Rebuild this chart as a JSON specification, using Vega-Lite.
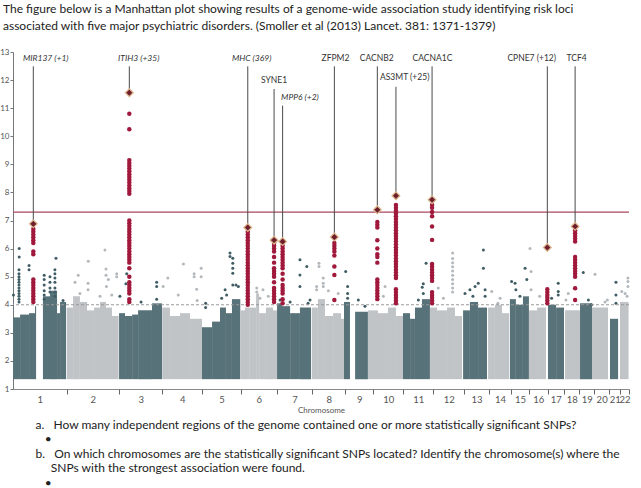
{
  "$schema": "https://vega.github.io/schema/vega-lite/v6.json",
  "width": 616,
  "height": 337,
  "autosize": {"type": "none"},
  "padding": {"left": 13, "top": 52, "right": 12, "bottom": 99},
  "background": "white",
  "config": {"view": {"stroke": null}, "font": "Lato"},
  "title": {
    "text": ["The figure below is a Manhattan plot showing results of a genome-wide association study identifying risk loci", "associated with five major psychiatric disorders. (Smoller et al (2013) Lancet. 381: 1371-1379)"],
    "anchor": "start", "frame": "group", "dx": -10, "offset": 15,
    "font": "Lato", "fontSize": 12, "fontWeight": "normal", "color": "#222", "lineHeight": 17
  },
  "datasets": {
    "bands": [
      {"chr":1,"group":"odd","start":0,"end":33,"top":3.55},{"chr":1,"group":"odd","start":33,"end":75,"top":3.65},{"chr":1,"group":"odd","start":75,"end":103,"top":3.7},{"chr":1,"group":"odd","start":103,"end":108,"top":3.95},{"chr":1,"group":"odd","start":140,"end":173,"top":4.3},{"chr":1,"group":"odd","start":173,"end":206,"top":4.5},{"chr":1,"group":"odd","start":206,"end":220,"top":3.7},{"chr":1,"group":"odd","start":220,"end":248,"top":4.1},
      {"chr":2,"group":"even","start":251,"end":281,"top":3.9},{"chr":2,"group":"even","start":281,"end":313,"top":4.3},{"chr":2,"group":"even","start":313,"end":346,"top":4.1},{"chr":2,"group":"even","start":346,"end":379,"top":3.8},{"chr":2,"group":"even","start":379,"end":407,"top":3.9},{"chr":2,"group":"even","start":407,"end":435,"top":4.1},{"chr":2,"group":"even","start":435,"end":463,"top":3.9},{"chr":2,"group":"even","start":463,"end":494,"top":3.6},
      {"chr":3,"group":"odd","start":496,"end":524,"top":3.7},{"chr":3,"group":"odd","start":524,"end":557,"top":3.6},{"chr":3,"group":"odd","start":557,"end":585,"top":3.65},{"chr":3,"group":"odd","start":585,"end":650,"top":3.8},{"chr":3,"group":"odd","start":650,"end":697,"top":4.05},
      {"chr":4,"group":"even","start":698,"end":734,"top":3.9},{"chr":4,"group":"even","start":734,"end":781,"top":3.6},{"chr":4,"group":"even","start":781,"end":828,"top":3.7},{"chr":4,"group":"even","start":828,"end":884,"top":3.5},
      {"chr":5,"group":"odd","start":884,"end":931,"top":3.2},{"chr":5,"group":"odd","start":931,"end":968,"top":3.4},{"chr":5,"group":"odd","start":968,"end":996,"top":3.9},{"chr":5,"group":"odd","start":996,"end":1024,"top":3.7},{"chr":5,"group":"odd","start":1024,"end":1063,"top":4.2},
      {"chr":6,"group":"even","start":1063,"end":1085,"top":3.8},{"chr":6,"group":"even","start":1085,"end":1108,"top":3.9},{"chr":6,"group":"even","start":1108,"end":1137,"top":3.9},{"chr":6,"group":"even","start":1137,"end":1151,"top":4.4},{"chr":6,"group":"even","start":1151,"end":1183,"top":3.7},{"chr":6,"group":"even","start":1183,"end":1216,"top":3.9},{"chr":6,"group":"even","start":1216,"end":1235,"top":3.8},
      {"chr":7,"group":"odd","start":1235,"end":1258,"top":4.05},{"chr":7,"group":"odd","start":1258,"end":1296,"top":3.95},{"chr":7,"group":"odd","start":1296,"end":1342,"top":3.7},{"chr":7,"group":"odd","start":1342,"end":1394,"top":3.9},
      {"chr":8,"group":"even","start":1398,"end":1426,"top":3.9},{"chr":8,"group":"even","start":1426,"end":1459,"top":4.2},{"chr":8,"group":"even","start":1459,"end":1497,"top":3.6},{"chr":8,"group":"even","start":1497,"end":1534,"top":3.7},{"chr":8,"group":"even","start":1534,"end":1548,"top":3.5},
      {"chr":9,"group":"odd","start":1548,"end":1576,"top":4.1},{"chr":9,"group":"odd","start":1600,"end":1660,"top":3.75},
      {"chr":10,"group":"even","start":1660,"end":1707,"top":3.8},{"chr":10,"group":"even","start":1707,"end":1754,"top":3.7},{"chr":10,"group":"even","start":1754,"end":1791,"top":3.9},{"chr":10,"group":"even","start":1791,"end":1824,"top":3.6},
      {"chr":11,"group":"odd","start":1824,"end":1857,"top":3.7},{"chr":11,"group":"odd","start":1857,"end":1880,"top":3.5},{"chr":11,"group":"odd","start":1880,"end":1913,"top":3.9},{"chr":11,"group":"odd","start":1913,"end":1950,"top":4.2},
      {"chr":12,"group":"even","start":1950,"end":1983,"top":3.9},{"chr":12,"group":"even","start":1983,"end":2030,"top":3.8},{"chr":12,"group":"even","start":2030,"end":2067,"top":3.9},{"chr":12,"group":"even","start":2067,"end":2100,"top":3.6},
      {"chr":13,"group":"odd","start":2105,"end":2137,"top":3.8},{"chr":13,"group":"odd","start":2137,"end":2175,"top":4.1},{"chr":13,"group":"odd","start":2175,"end":2217,"top":3.9},
      {"chr":14,"group":"even","start":2222,"end":2254,"top":3.9},{"chr":14,"group":"even","start":2254,"end":2287,"top":4.0},{"chr":14,"group":"even","start":2287,"end":2320,"top":3.7},
      {"chr":15,"group":"odd","start":2324,"end":2352,"top":4.2},{"chr":15,"group":"odd","start":2352,"end":2385,"top":4.0},{"chr":15,"group":"odd","start":2385,"end":2413,"top":4.3},
      {"chr":16,"group":"even","start":2413,"end":2451,"top":3.8},{"chr":16,"group":"even","start":2451,"end":2493,"top":3.9},
      {"chr":17,"group":"odd","start":2502,"end":2540,"top":4.0},{"chr":17,"group":"odd","start":2540,"end":2577,"top":3.9},
      {"chr":18,"group":"even","start":2582,"end":2652,"top":3.8},
      {"chr":19,"group":"odd","start":2652,"end":2708,"top":4.05},
      {"chr":20,"group":"even","start":2708,"end":2783,"top":3.9},
      {"chr":21,"group":"odd","start":2792,"end":2830,"top":3.5},
      {"chr":22,"group":"even","start":2839,"end":2879,"top":4.1}
    ],
    "snps": [
      {"group":"odd","pos":29,"logp":6.0},{"group":"odd","pos":29,"logp":5.7},{"group":"odd","pos":28,"logp":5.25},{"group":"odd","pos":28,"logp":5.1},{"group":"odd","pos":28,"logp":5.0},{"group":"odd","pos":28,"logp":4.9},{"group":"odd","pos":28,"logp":4.8},{"group":"odd","pos":28,"logp":4.7},{"group":"odd","pos":28,"logp":4.6},{"group":"odd","pos":28,"logp":4.5},{"group":"odd","pos":28,"logp":4.4},{"group":"odd","pos":28,"logp":4.3},{"group":"odd","pos":28,"logp":4.2},{"group":"odd","pos":28,"logp":4.1},{"group":"odd","pos":2,"logp":4.35},{"group":"odd","pos":75,"logp":5.4},{"group":"odd","pos":75,"logp":5.25},
      {"group":"odd","pos":201,"logp":5.66},{"group":"odd","pos":196,"logp":5.25},{"group":"odd","pos":196,"logp":5.1},{"group":"odd","pos":196,"logp":4.95},{"group":"odd","pos":196,"logp":4.8},{"group":"odd","pos":196,"logp":4.6},{"group":"odd","pos":196,"logp":4.45},{"group":"odd","pos":196,"logp":4.3},
      {"group":"odd","pos":146,"logp":5.05},{"group":"odd","pos":146,"logp":4.9},{"group":"odd","pos":146,"logp":4.7},{"group":"odd","pos":146,"logp":4.5},{"group":"odd","pos":146,"logp":4.35},{"group":"odd","pos":146,"logp":4.2},{"group":"odd","pos":173,"logp":5.0},{"group":"odd","pos":173,"logp":4.8},{"group":"odd","pos":173,"logp":4.6},{"group":"odd","pos":173,"logp":4.45},{"group":"odd","pos":234,"logp":4.15},
      {"group":"even","pos":352,"logp":5.55},{"group":"even","pos":305,"logp":5.05},{"group":"even","pos":351,"logp":4.77},{"group":"even","pos":351,"logp":4.53},{"group":"even","pos":430,"logp":5.95},{"group":"even","pos":435,"logp":5.27},{"group":"even","pos":435,"logp":5.05},{"group":"even","pos":437,"logp":4.65},{"group":"even","pos":407,"logp":4.3},{"group":"even","pos":290,"logp":4.8},{"group":"even","pos":313,"logp":4.4},{"group":"even","pos":485,"logp":5.1},{"group":"even","pos":485,"logp":5.0},{"group":"even","pos":446,"logp":4.9},{"group":"even","pos":462,"logp":4.35},
      {"group":"odd","pos":500,"logp":4.3},{"group":"odd","pos":532,"logp":5.1},{"group":"odd","pos":528,"logp":4.75},{"group":"odd","pos":599,"logp":4.1},{"group":"odd","pos":672,"logp":4.8},{"group":"odd","pos":672,"logp":4.65},{"group":"odd","pos":672,"logp":4.2},
      {"group":"even","pos":724,"logp":4.95},{"group":"even","pos":702,"logp":4.65},{"group":"even","pos":773,"logp":4.35},{"group":"even","pos":797,"logp":5.45},{"group":"even","pos":847,"logp":5.1},{"group":"even","pos":847,"logp":5.0},{"group":"even","pos":880,"logp":5.3},{"group":"even","pos":880,"logp":5.0},{"group":"even","pos":859,"logp":4.55},{"group":"even","pos":861,"logp":4.15},
      {"group":"odd","pos":901,"logp":4.05},{"group":"odd","pos":901,"logp":3.9},{"group":"odd","pos":1015,"logp":5.84},{"group":"odd","pos":1015,"logp":5.72},{"group":"odd","pos":1028,"logp":5.66},{"group":"odd","pos":1028,"logp":5.48},{"group":"odd","pos":1028,"logp":5.3},{"group":"odd","pos":1028,"logp":5.12},{"group":"odd","pos":1028,"logp":4.7},{"group":"odd","pos":1043,"logp":4.7},{"group":"odd","pos":1054,"logp":4.65},{"group":"odd","pos":992,"logp":4.53},{"group":"odd","pos":976,"logp":4.23},{"group":"odd","pos":999,"logp":4.35},
      {"group":"even","pos":1140,"logp":4.6},{"group":"even","pos":1140,"logp":4.45},{"group":"even","pos":1155,"logp":4.23},{"group":"even","pos":1169,"logp":4.53},{"group":"even","pos":1194,"logp":4.3},
      {"group":"odd","pos":1342,"logp":5.6},{"group":"odd","pos":1374,"logp":5.36},{"group":"odd","pos":1342,"logp":5.06},{"group":"odd","pos":1342,"logp":4.65},{"group":"odd","pos":1389,"logp":4.17},{"group":"odd","pos":1380,"logp":4.05},{"group":"odd","pos":1296,"logp":4.1},{"group":"odd","pos":1249,"logp":4.17},
      {"group":"even","pos":1431,"logp":5.48},{"group":"even","pos":1431,"logp":5.36},{"group":"even","pos":1451,"logp":4.95},{"group":"even","pos":1451,"logp":4.77},{"group":"even","pos":1451,"logp":4.65},{"group":"even","pos":1420,"logp":4.65},{"group":"even","pos":1420,"logp":4.53},{"group":"even","pos":1475,"logp":4.5},{"group":"even","pos":1521,"logp":4.4},
      {"group":"odd","pos":1556,"logp":5.18},{"group":"odd","pos":1565,"logp":4.65},{"group":"odd","pos":1565,"logp":4.4},{"group":"odd","pos":1565,"logp":4.23},{"group":"odd","pos":1615,"logp":4.17},{"group":"odd","pos":1646,"logp":3.95},
      {"group":"even","pos":1740,"logp":4.65},{"group":"even","pos":1732,"logp":4.3},
      {"group":"odd","pos":1919,"logp":4.75},{"group":"odd","pos":1919,"logp":4.4},{"group":"odd","pos":1896,"logp":4.17},{"group":"odd","pos":1932,"logp":5.48},{"group":"odd","pos":1914,"logp":4.62},
      {"group":"even","pos":2056,"logp":5.84},{"group":"even","pos":2056,"logp":5.65},{"group":"even","pos":2056,"logp":5.5},{"group":"even","pos":2056,"logp":5.35},{"group":"even","pos":2056,"logp":5.2},{"group":"even","pos":2056,"logp":5.05},{"group":"even","pos":2056,"logp":4.9},{"group":"even","pos":2056,"logp":4.75},{"group":"even","pos":2056,"logp":4.6},{"group":"even","pos":2056,"logp":4.45},{"group":"even","pos":2013,"logp":4.23},{"group":"even","pos":1989,"logp":4.6},
      {"group":"odd","pos":2200,"logp":5.95},{"group":"odd","pos":2200,"logp":5.3},{"group":"odd","pos":2161,"logp":4.65},{"group":"odd","pos":2176,"logp":4.77},{"group":"odd","pos":2137,"logp":4.53},{"group":"odd","pos":2114,"logp":4.4},{"group":"odd","pos":2208,"logp":4.53},{"group":"odd","pos":2208,"logp":4.3},{"group":"odd","pos":2151,"logp":4.3},
      {"group":"even","pos":2239,"logp":4.47},{"group":"even","pos":2278,"logp":4.23},{"group":"even","pos":2268,"logp":4.05},
      {"group":"odd","pos":2332,"logp":4.83},{"group":"odd","pos":2348,"logp":4.77},{"group":"odd","pos":2352,"logp":4.53},{"group":"odd","pos":2371,"logp":4.3},{"group":"odd","pos":2395,"logp":5.3},{"group":"odd","pos":2403,"logp":4.9},
      {"group":"even","pos":2418,"logp":6.0},{"group":"even","pos":2423,"logp":5.18},{"group":"even","pos":2423,"logp":4.53},{"group":"even","pos":2463,"logp":4.3},
      {"group":"odd","pos":2550,"logp":4.77},{"group":"odd","pos":2550,"logp":4.47},{"group":"odd","pos":2550,"logp":4.35},{"group":"odd","pos":2519,"logp":4.23},
      {"group":"even","pos":2597,"logp":4.4},{"group":"even","pos":2586,"logp":4.17},
      {"group":"odd","pos":2667,"logp":5.15},{"group":"odd","pos":2691,"logp":4.17},{"group":"odd","pos":2706,"logp":4.0},
      {"group":"even","pos":2722,"logp":5.09},{"group":"even","pos":2769,"logp":4.1},{"group":"even","pos":2780,"logp":4.17},
      {"group":"odd","pos":2820,"logp":4.8},{"group":"odd","pos":2820,"logp":4.35},{"group":"odd","pos":2820,"logp":4.05},
      {"group":"even","pos":2847,"logp":4.47},{"group":"even","pos":2863,"logp":4.4},{"group":"even","pos":2876,"logp":4.95},{"group":"even","pos":2876,"logp":4.83},{"group":"even","pos":2876,"logp":4.65},{"group":"even","pos":2872,"logp":4.3}
    ],
    "sig": [
      {"gene":"MIR137","pos":95,"logp":6.7},{"gene":"MIR137","pos":95,"logp":6.6},{"gene":"MIR137","pos":95,"logp":6.5},{"gene":"MIR137","pos":95,"logp":6.4},{"gene":"MIR137","pos":95,"logp":6.3},{"gene":"MIR137","pos":95,"logp":6.2},{"gene":"MIR137","pos":95,"logp":5.9},{"gene":"MIR137","pos":95,"logp":5.8},{"gene":"MIR137","pos":95,"logp":4.9},{"gene":"MIR137","pos":95,"logp":4.8},{"gene":"MIR137","pos":95,"logp":4.7},{"gene":"MIR137","pos":95,"logp":4.6},{"gene":"MIR137","pos":95,"logp":4.5},{"gene":"MIR137","pos":95,"logp":4.4},{"gene":"MIR137","pos":95,"logp":4.3},{"gene":"MIR137","pos":95,"logp":4.2},{"gene":"MIR137","pos":95,"logp":4.1},
      {"gene":"ITIH3","pos":544,"logp":10.8},{"gene":"ITIH3","pos":544,"logp":10.25},{"gene":"ITIH3","pos":544,"logp":9.15},{"gene":"ITIH3","pos":544,"logp":9.05},{"gene":"ITIH3","pos":544,"logp":8.95},{"gene":"ITIH3","pos":544,"logp":8.85},{"gene":"ITIH3","pos":544,"logp":8.75},{"gene":"ITIH3","pos":544,"logp":8.65},{"gene":"ITIH3","pos":544,"logp":8.55},{"gene":"ITIH3","pos":544,"logp":8.45},{"gene":"ITIH3","pos":544,"logp":8.35},{"gene":"ITIH3","pos":544,"logp":8.25},{"gene":"ITIH3","pos":544,"logp":8.15},{"gene":"ITIH3","pos":544,"logp":8.05},{"gene":"ITIH3","pos":544,"logp":7.95},{"gene":"ITIH3","pos":544,"logp":7.0},{"gene":"ITIH3","pos":544,"logp":6.9},{"gene":"ITIH3","pos":544,"logp":6.8},{"gene":"ITIH3","pos":544,"logp":6.7},{"gene":"ITIH3","pos":544,"logp":6.6},{"gene":"ITIH3","pos":544,"logp":6.5},{"gene":"ITIH3","pos":544,"logp":6.4},{"gene":"ITIH3","pos":544,"logp":6.3},{"gene":"ITIH3","pos":544,"logp":6.2},{"gene":"ITIH3","pos":544,"logp":6.1},{"gene":"ITIH3","pos":544,"logp":6.0},{"gene":"ITIH3","pos":544,"logp":5.9},{"gene":"ITIH3","pos":544,"logp":5.8},{"gene":"ITIH3","pos":544,"logp":5.7},{"gene":"ITIH3","pos":544,"logp":5.6},{"gene":"ITIH3","pos":544,"logp":5.5},{"gene":"ITIH3","pos":544,"logp":5.3},{"gene":"ITIH3","pos":544,"logp":5.0},{"gene":"ITIH3","pos":544,"logp":4.8},{"gene":"ITIH3","pos":544,"logp":4.7},{"gene":"ITIH3","pos":544,"logp":4.6},{"gene":"ITIH3","pos":544,"logp":4.5},{"gene":"ITIH3","pos":544,"logp":4.4},{"gene":"ITIH3","pos":544,"logp":4.2},{"gene":"ITIH3","pos":544,"logp":4.1},
      {"gene":"MHC","pos":1098,"logp":6.6},{"gene":"MHC","pos":1098,"logp":6.5},{"gene":"MHC","pos":1098,"logp":6.4},{"gene":"MHC","pos":1098,"logp":6.3},{"gene":"MHC","pos":1098,"logp":6.2},{"gene":"MHC","pos":1098,"logp":6.1},{"gene":"MHC","pos":1098,"logp":6.0},{"gene":"MHC","pos":1098,"logp":5.9},{"gene":"MHC","pos":1098,"logp":5.8},{"gene":"MHC","pos":1098,"logp":5.7},{"gene":"MHC","pos":1098,"logp":5.6},{"gene":"MHC","pos":1098,"logp":5.5},{"gene":"MHC","pos":1098,"logp":5.4},{"gene":"MHC","pos":1098,"logp":5.3},{"gene":"MHC","pos":1098,"logp":5.2},{"gene":"MHC","pos":1098,"logp":5.1},{"gene":"MHC","pos":1098,"logp":5.0},{"gene":"MHC","pos":1098,"logp":4.9},{"gene":"MHC","pos":1098,"logp":4.8},{"gene":"MHC","pos":1098,"logp":4.7},{"gene":"MHC","pos":1098,"logp":4.6},{"gene":"MHC","pos":1098,"logp":4.5},{"gene":"MHC","pos":1098,"logp":4.4},{"gene":"MHC","pos":1098,"logp":4.3},{"gene":"MHC","pos":1098,"logp":4.2},{"gene":"MHC","pos":1098,"logp":4.1},{"gene":"MHC","pos":1098,"logp":4.0},
      {"gene":"SYNE1","pos":1221,"logp":6.2},{"gene":"SYNE1","pos":1221,"logp":6.1},{"gene":"SYNE1","pos":1221,"logp":6.0},{"gene":"SYNE1","pos":1221,"logp":5.9},{"gene":"SYNE1","pos":1221,"logp":5.7},{"gene":"SYNE1","pos":1221,"logp":5.5},{"gene":"SYNE1","pos":1221,"logp":5.3},{"gene":"SYNE1","pos":1221,"logp":5.2},{"gene":"SYNE1","pos":1221,"logp":5.1},{"gene":"SYNE1","pos":1221,"logp":5.0},{"gene":"SYNE1","pos":1221,"logp":4.8},{"gene":"SYNE1","pos":1221,"logp":4.6},{"gene":"SYNE1","pos":1221,"logp":4.5},{"gene":"SYNE1","pos":1221,"logp":4.4},{"gene":"SYNE1","pos":1221,"logp":4.3},{"gene":"SYNE1","pos":1221,"logp":4.2},{"gene":"SYNE1","pos":1221,"logp":4.1},
      {"gene":"MPP6","pos":1261,"logp":6.1},{"gene":"MPP6","pos":1261,"logp":6.0},{"gene":"MPP6","pos":1261,"logp":5.9},{"gene":"MPP6","pos":1261,"logp":5.8},{"gene":"MPP6","pos":1261,"logp":5.7},{"gene":"MPP6","pos":1261,"logp":5.6},{"gene":"MPP6","pos":1261,"logp":5.5},{"gene":"MPP6","pos":1261,"logp":5.4},{"gene":"MPP6","pos":1261,"logp":5.3},{"gene":"MPP6","pos":1261,"logp":5.1},{"gene":"MPP6","pos":1261,"logp":4.9},{"gene":"MPP6","pos":1261,"logp":4.7},{"gene":"MPP6","pos":1261,"logp":4.6},{"gene":"MPP6","pos":1261,"logp":4.5},{"gene":"MPP6","pos":1261,"logp":4.4},{"gene":"MPP6","pos":1261,"logp":4.2},{"gene":"MPP6","pos":1261,"logp":4.05},
      {"gene":"ZFPM2","pos":1503,"logp":6.2},{"gene":"ZFPM2","pos":1503,"logp":6.1},{"gene":"ZFPM2","pos":1503,"logp":6.0},{"gene":"ZFPM2","pos":1503,"logp":5.9},{"gene":"ZFPM2","pos":1503,"logp":5.75},{"gene":"ZFPM2","pos":1503,"logp":5.36},{"gene":"ZFPM2","pos":1503,"logp":5.06},{"gene":"ZFPM2","pos":1503,"logp":4.17},
      {"gene":"CACNB2","pos":1704,"logp":6.95},{"gene":"CACNB2","pos":1704,"logp":6.85},{"gene":"CACNB2","pos":1704,"logp":6.75},{"gene":"CACNB2","pos":1704,"logp":6.3},{"gene":"CACNB2","pos":1704,"logp":6.0},{"gene":"CACNB2","pos":1704,"logp":5.8},{"gene":"CACNB2","pos":1704,"logp":5.7},{"gene":"CACNB2","pos":1704,"logp":5.5},{"gene":"CACNB2","pos":1704,"logp":4.9},{"gene":"CACNB2","pos":1704,"logp":4.8},{"gene":"CACNB2","pos":1704,"logp":4.7},{"gene":"CACNB2","pos":1704,"logp":4.6},{"gene":"CACNB2","pos":1704,"logp":4.5},{"gene":"CACNB2","pos":1704,"logp":4.4},{"gene":"CACNB2","pos":1704,"logp":4.3},{"gene":"CACNB2","pos":1704,"logp":4.2},
      {"gene":"AS3MT","pos":1791,"logp":7.55},{"gene":"AS3MT","pos":1791,"logp":7.45},{"gene":"AS3MT","pos":1791,"logp":7.35},{"gene":"AS3MT","pos":1791,"logp":7.25},{"gene":"AS3MT","pos":1791,"logp":7.15},{"gene":"AS3MT","pos":1791,"logp":7.05},{"gene":"AS3MT","pos":1791,"logp":6.95},{"gene":"AS3MT","pos":1791,"logp":6.85},{"gene":"AS3MT","pos":1791,"logp":6.75},{"gene":"AS3MT","pos":1791,"logp":6.65},{"gene":"AS3MT","pos":1791,"logp":6.55},{"gene":"AS3MT","pos":1791,"logp":6.45},{"gene":"AS3MT","pos":1791,"logp":6.35},{"gene":"AS3MT","pos":1791,"logp":6.25},{"gene":"AS3MT","pos":1791,"logp":6.15},{"gene":"AS3MT","pos":1791,"logp":6.05},{"gene":"AS3MT","pos":1791,"logp":5.95},{"gene":"AS3MT","pos":1791,"logp":5.85},{"gene":"AS3MT","pos":1791,"logp":5.75},{"gene":"AS3MT","pos":1791,"logp":5.65},{"gene":"AS3MT","pos":1791,"logp":5.55},{"gene":"AS3MT","pos":1791,"logp":5.45},{"gene":"AS3MT","pos":1791,"logp":5.35},{"gene":"AS3MT","pos":1791,"logp":5.25},{"gene":"AS3MT","pos":1791,"logp":5.15},{"gene":"AS3MT","pos":1791,"logp":5.05},{"gene":"AS3MT","pos":1791,"logp":4.95},{"gene":"AS3MT","pos":1791,"logp":4.55},{"gene":"AS3MT","pos":1791,"logp":4.45},{"gene":"AS3MT","pos":1791,"logp":4.35},{"gene":"AS3MT","pos":1791,"logp":4.25},{"gene":"AS3MT","pos":1791,"logp":4.15},{"gene":"AS3MT","pos":1791,"logp":4.05},
      {"gene":"CACNA1C","pos":1960,"logp":7.55},{"gene":"CACNA1C","pos":1960,"logp":7.45},{"gene":"CACNA1C","pos":1960,"logp":7.3},{"gene":"CACNA1C","pos":1960,"logp":7.15},{"gene":"CACNA1C","pos":1960,"logp":6.79},{"gene":"CACNA1C","pos":1960,"logp":6.31},{"gene":"CACNA1C","pos":1960,"logp":5.45},{"gene":"CACNA1C","pos":1960,"logp":5.35},{"gene":"CACNA1C","pos":1960,"logp":5.25},{"gene":"CACNA1C","pos":1960,"logp":5.15},{"gene":"CACNA1C","pos":1960,"logp":5.05},{"gene":"CACNA1C","pos":1960,"logp":4.95},{"gene":"CACNA1C","pos":1960,"logp":4.85},{"gene":"CACNA1C","pos":1960,"logp":4.45},{"gene":"CACNA1C","pos":1960,"logp":4.35},{"gene":"CACNA1C","pos":1960,"logp":4.25},{"gene":"CACNA1C","pos":1960,"logp":4.15},{"gene":"CACNA1C","pos":1960,"logp":4.05},
      {"gene":"CPNE7","pos":2499,"logp":4.55},{"gene":"CPNE7","pos":2499,"logp":4.45},{"gene":"CPNE7","pos":2499,"logp":4.35},{"gene":"CPNE7","pos":2499,"logp":4.25},{"gene":"CPNE7","pos":2499,"logp":4.15},{"gene":"CPNE7","pos":2499,"logp":4.05},
      {"gene":"TCF4","pos":2629,"logp":6.65},{"gene":"TCF4","pos":2629,"logp":6.55},{"gene":"TCF4","pos":2629,"logp":6.45},{"gene":"TCF4","pos":2629,"logp":6.35},{"gene":"TCF4","pos":2629,"logp":6.25},{"gene":"TCF4","pos":2629,"logp":5.7},{"gene":"TCF4","pos":2629,"logp":5.6},{"gene":"TCF4","pos":2629,"logp":5.5},{"gene":"TCF4","pos":2629,"logp":5.4},{"gene":"TCF4","pos":2629,"logp":5.3},{"gene":"TCF4","pos":2629,"logp":5.2},{"gene":"TCF4","pos":2629,"logp":5.1},{"gene":"TCF4","pos":2629,"logp":5.0},{"gene":"TCF4","pos":2629,"logp":4.59},{"gene":"TCF4","pos":2629,"logp":4.17}
    ],
    "loci": [
      {"gene":"MIR137","label":"MIR137 (+1)","pos":95,"peak":6.88,"line_top":12.49,"label_pos":153,"label_y":12.77},
      {"gene":"ITIH3","label":"ITIH3 (+35)","pos":544,"peak":11.55,"line_top":12.49,"label_pos":588,"label_y":12.77},
      {"gene":"MHC","label":"MHC (369)","pos":1098,"peak":6.75,"line_top":12.49,"label_pos":1116,"label_y":12.77},
      {"gene":"SYNE1","label":"SYNE1","pos":1221,"peak":6.3,"line_top":11.68,"label_pos":1221,"label_y":11.99},
      {"gene":"MPP6","label":"MPP6 (+2)","pos":1261,"peak":6.25,"line_top":11.09,"label_pos":1342,"label_y":11.4},
      {"gene":"ZFPM2","label":"ZFPM2","pos":1503,"peak":6.41,"line_top":12.49,"label_pos":1508,"label_y":12.77},
      {"gene":"CACNB2","label":"CACNB2","pos":1704,"peak":7.38,"line_top":12.49,"label_pos":1701,"label_y":12.77},
      {"gene":"AS3MT","label":"AS3MT (+25)","pos":1791,"peak":7.88,"line_top":11.76,"label_pos":1832,"label_y":12.11},
      {"gene":"CACNA1C","label":"CACNA1C","pos":1960,"peak":7.74,"line_top":12.49,"label_pos":1962,"label_y":12.77},
      {"gene":"CPNE7","label":"CPNE7 (+12)","pos":2499,"peak":6.04,"line_top":12.49,"label_pos":2426,"label_y":12.77},
      {"gene":"TCF4","label":"TCF4","pos":2629,"peak":6.79,"line_top":12.49,"label_pos":2636,"label_y":12.77}
    ],
    "thresholds": [
      {"kind":"suggestive","logp":4},
      {"kind":"genome-wide","logp":7.3}
    ]
  },
  "layer": [
    {
      "data": {"name": "bands"},
      "mark": {"type": "rect"},
      "encoding": {
        "x": {"field": "start", "type": "quantitative",
          "scale": {"domain": [0, 2881], "nice": false, "zero": false},
          "axis": {"orient": "bottom", "values": [125.5,373.5,597,791.5,975.5,1149.5,1316.5,1476.5,1619,1755,1895.5,2037.5,2167.5,2277.5,2371,2457,2539,2613,2683,2753,2814,2860],
            "labelExpr": "indexof([125.5,373.5,597,791.5,975.5,1149.5,1316.5,1476.5,1619,1755,1895.5,2037.5,2167.5,2277.5,2371,2457,2539,2613,2683,2753,2814,2860], datum.value) + 1",
            "ticks": false, "grid": false, "domain": true, "domainColor": "#8a8a8a", "labelFontSize": 9.5, "labelColor": "#555", "labelPadding": 5,
            "labelOverlap": false, "labelBound": false, "labelFlush": false,
            "title": "Chromosome", "titleFontSize": 8, "titleColor": "#555", "titleFontWeight": "normal", "titlePadding": 3}},
        "x2": {"field": "end"},
        "y": {"field": "top", "type": "quantitative",
          "scale": {"domain": [1, 13], "nice": false, "zero": false},
          "axis": {"orient": "left", "values": [1,2,3,4,5,6,7,8,9,10,11,12,13], "grid": false, "title": null, "domainColor": "#777", "tickColor": "#777", "tickSize": 3, "labelFontSize": 8, "labelColor": "#555", "labelPadding": 1, "labelOverlap": false, "labelFlush": false, "labelBound": false}},
        "y2": {"datum": 1.35},
        "fill": {"field": "group", "type": "nominal", "scale": {"domain": ["odd", "even"], "range": ["#587279", "#c0c4c7"]}, "legend": null}
      }
    },
    {
      "data": {"name": "snps"},
      "mark": {"type": "circle", "size": 9, "opacity": 1},
      "encoding": {
        "x": {"field": "pos", "type": "quantitative",
          "scale": {"domain": [0, 2881], "nice": false, "zero": false},
          "axis": {"orient": "bottom", "values": [251,496,698,885,1066,1233,1400,1553,1685,1825,1966,2109,2226,2329,2413,2501,2577,2649,2717,2789,2839,2881],
            "labels": false, "ticks": true, "tickSize": 5, "tickColor": "#666", "grid": false, "domain": false,
            "title": ["a.\u00a0\u00a0\u00a0How many independent regions of the genome contained one or more statistically significant SNPs?", "\u200b\u00a0\u00a0\u00a0\u2022", "b.\u00a0\u00a0\u00a0On which chromosomes are the statistically significant SNPs located? Identify the chromosome(s) where the", "\u200b\u00a0\u00a0\u00a0\u00a0\u00a0SNPs with the strongest association were found.", "\u200b\u00a0\u00a0\u00a0\u2022"],
            "titleAnchor": "start", "titleAlign": "left", "titleBaseline": "top", "titleX": 22, "titleY": 30,
            "titleFont": "Lato", "titleFontSize": 12, "titleFontWeight": "normal", "titleColor": "#222", "titleLineHeight": 14.5}},
        "y": {"field": "logp", "type": "quantitative", "axis": null},
        "color": {"field": "group", "type": "nominal", "scale": {"domain": ["odd", "even"], "range": ["#405c64", "#b3b8bc"]}, "legend": null}
      }
    },
    {
      "data": {"name": "thresholds"},
      "transform": [{"filter": "datum.kind === 'suggestive'"}],
      "mark": {"type": "rule", "color": "#9a9a9a", "strokeDash": [3, 2], "strokeWidth": 1},
      "encoding": {"y": {"field": "logp", "type": "quantitative", "axis": null}}
    },
    {
      "data": {"name": "thresholds"},
      "transform": [{"filter": "datum.kind === 'genome-wide'"}],
      "mark": {"type": "rule", "color": "#a8485e", "strokeWidth": 1.2},
      "encoding": {"y": {"field": "logp", "type": "quantitative", "axis": null}}
    },
    {
      "data": {"name": "loci"},
      "mark": {"type": "rule", "color": "#4a4a4a", "strokeWidth": 1},
      "encoding": {
        "x": {"field": "pos", "type": "quantitative", "axis": null},
        "y": {"field": "peak", "type": "quantitative", "axis": null},
        "y2": {"field": "line_top"}
      }
    },
    {
      "data": {"name": "sig"},
      "mark": {"type": "circle", "size": 20, "color": "#a0183b", "opacity": 1},
      "encoding": {
        "x": {"field": "pos", "type": "quantitative", "axis": null},
        "y": {"field": "logp", "type": "quantitative", "axis": null}
      }
    },
    {
      "data": {"name": "loci"},
      "mark": {"type": "point", "shape": "diamond", "filled": true, "size": 60, "fill": "#6e1f2e", "stroke": "#dcb58c", "strokeWidth": 1.2, "opacity": 1},
      "encoding": {
        "x": {"field": "pos", "type": "quantitative", "axis": null},
        "y": {"field": "peak", "type": "quantitative", "axis": null}
      }
    },
    {
      "data": {"name": "loci"},
      "transform": [{"filter": "indexof(['MIR137','ITIH3','MHC','MPP6'], datum.gene) >= 0"}],
      "mark": {"type": "text", "font": "Lato", "fontSize": 8.5, "fontStyle": "italic", "color": "#333"},
      "encoding": {
        "x": {"field": "label_pos", "type": "quantitative", "axis": null},
        "y": {"field": "label_y", "type": "quantitative", "axis": null},
        "text": {"field": "label"}
      }
    },
    {
      "data": {"name": "loci"},
      "transform": [{"filter": "indexof(['MIR137','ITIH3','MHC','MPP6'], datum.gene) < 0"}],
      "mark": {"type": "text", "font": "Lato", "fontSize": 8.5, "color": "#333"},
      "encoding": {
        "x": {"field": "label_pos", "type": "quantitative", "axis": null},
        "y": {"field": "label_y", "type": "quantitative", "axis": null},
        "text": {"field": "label"}
      }
    }
  ],
  "resolve": {"axis": {"x": "independent", "y": "independent"}}
}
